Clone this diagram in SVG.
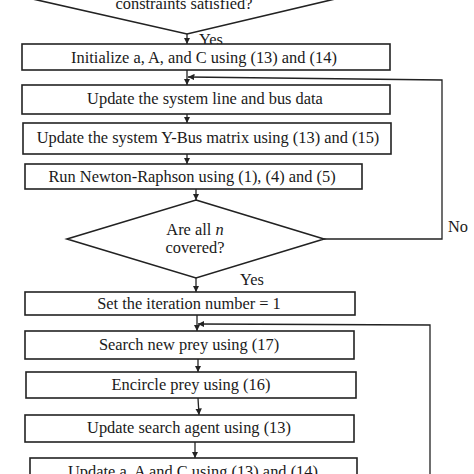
<svg xmlns="http://www.w3.org/2000/svg" width="474" height="474" viewBox="0 0 474 474">
<defs>
<style>
.b{fill:#fff;stroke:#222;stroke-width:1.6}
.c{fill:none;stroke:#222;stroke-width:1.3}
text{font-family:"Liberation Serif","Times New Roman",serif;font-size:16.4px;fill:#1a1a1a;text-anchor:middle}
.l{text-anchor:start}
</style>
<marker id="a" viewBox="0 0 10 10" refX="10" refY="5" markerWidth="5" markerHeight="5" orient="auto">
<path d="M0,0 L10,5 L0,10 z" fill="#222"/>
</marker>
</defs>
<rect width="474" height="474" fill="#fff"/>
<g id="connectors">
<line class="c" x1="187" y1="34" x2="187" y2="44" marker-end="url(#a)"/>
<line class="c" x1="187" y1="70" x2="187" y2="85" marker-end="url(#a)"/>
<polyline class="c" points="324,239 442,239 442,80 188,77" marker-end="url(#a)"/>
<line class="c" x1="187" y1="114" x2="187" y2="123" marker-end="url(#a)"/>
<line class="c" x1="187" y1="154" x2="187" y2="164" marker-end="url(#a)"/>
<line class="c" x1="196" y1="189" x2="196" y2="200" marker-end="url(#a)"/>
<line class="c" x1="196" y1="278" x2="196" y2="292" marker-end="url(#a)"/>
<line class="c" x1="197" y1="315" x2="197" y2="331" marker-end="url(#a)"/>
<polyline class="c" points="430,474 430,325 198,324" marker-end="url(#a)"/>
<line class="c" x1="198" y1="359" x2="198" y2="372" marker-end="url(#a)"/>
<line class="c" x1="198" y1="398" x2="199" y2="415" marker-end="url(#a)"/>
<line class="c" x1="195" y1="442" x2="195" y2="458" marker-end="url(#a)"/>
<text x="199" y="45" class="l">Yes</text>
<text x="448" y="232" class="l">No</text>
<text x="240" y="285" class="l">Yes</text>
</g>
<g id="d1">
<path class="b" d="M15,-5 L187,34 L352,-5"/>
<text x="184" y="9">constraints satisfied?</text>
</g>
<g id="n1">
<rect class="b" x="22" y="44" width="368" height="26"/>
<text x="204" y="63">Initialize a, A, and C using (13) and (14)</text>
</g>
<g id="n2">
<rect class="b" x="22" y="85" width="368" height="29"/>
<text x="205" y="104">Update the system line and bus data</text>
</g>
<g id="n3">
<rect class="b" x="23" y="123" width="368" height="31"/>
<text x="208" y="143">Update the system Y-Bus matrix using (13) and (15)</text>
</g>
<g id="n4">
<rect class="b" x="25" y="164" width="337" height="25"/>
<text x="192" y="182">Run Newton-Raphson using (1), (4) and (5)</text>
</g>
<g id="d2">
<polygon class="b" points="196,200 324,239 196,278 67,239"/>
<text x="195" y="235">Are all <tspan font-style="italic">n</tspan></text>
<text x="195" y="253">covered?</text>
</g>
<g id="n5">
<rect class="b" x="25" y="292" width="330" height="23"/>
<text x="189" y="309">Set the iteration number = 1</text>
</g>
<g id="n6">
<rect class="b" x="25" y="331" width="329" height="28"/>
<text x="189" y="350">Search new prey using (17)</text>
</g>
<g id="n7">
<rect class="b" x="26" y="372" width="330" height="26"/>
<text x="191" y="390">Encircle prey using (16)</text>
</g>
<g id="n8">
<rect class="b" x="25" y="415" width="329" height="27"/>
<text x="189" y="433">Update search agent using (13)</text>
</g>
<g id="n9">
<rect class="b" x="30" y="458" width="327" height="30"/>
<text x="193" y="477">Update a, A and C using (13) and (14)</text>
</g>
</svg>
